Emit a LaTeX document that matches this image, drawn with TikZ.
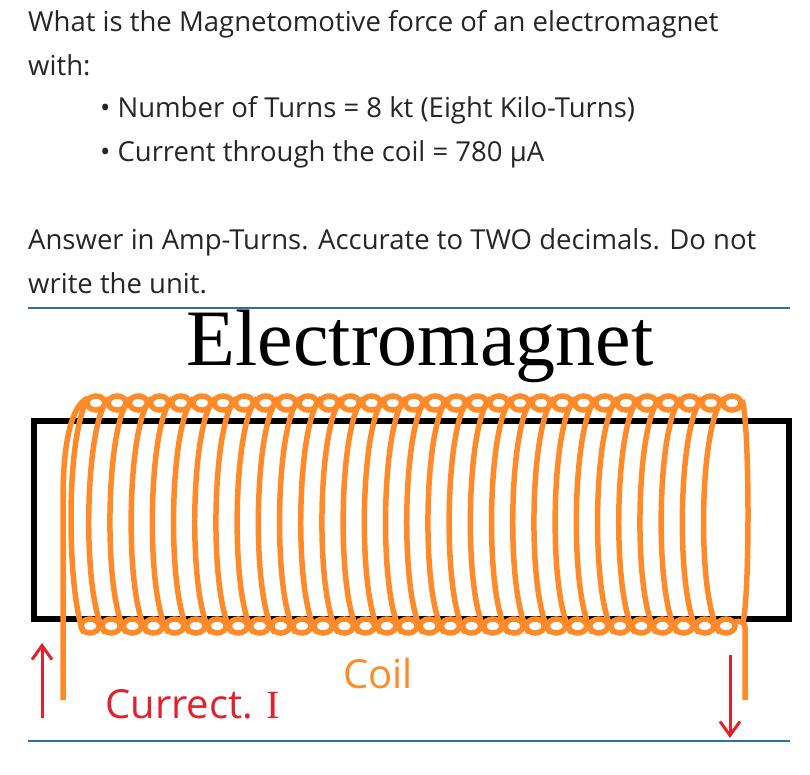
\documentclass[tikz,border=0pt]{standalone}
\usepackage{fontspec}
\setmainfont{Open Sans}
\newfontfamily\serifR{Liberation Serif}
\usetikzlibrary{arrows.meta}
\definecolor{coilc}{HTML}{FF8A2A}
\definecolor{redc}{HTML}{E3202B}
\definecolor{bluec}{HTML}{2F6FA8}
\tikzset{q/.style={anchor=base west,inner sep=0,font=\fontsize{27.5}{30}\selectfont,text=black!85},
wire/.style={draw=coilc,line width=5.5pt},
cur/.style={draw=redc,line width=3pt,-{Straight Barb[length=14pt,width=20pt,line width=3pt]}}}
\begin{document}
\begin{tikzpicture}[x=1pt,y=-1pt]
\useasboundingbox (0,0) rectangle (810,775);
\node[q] (l1) at (28,32) {What is the Magnetomotive force of an electromagnet};
\node[q] (l2) at (28,76) {with:};
\node[q] (b1) at (100,118) {•\hspace{7pt}Number of Turns = 8 kt (Eight Kilo-Turns)};
\node[q] (b2) at (100,162) {•\hspace{7pt}Current through the coil = 780 µA};
\node[q] (l3) at (28,250) {Answer in Amp-Turns. Accurate to TWO decimals. Do not};
\node[q] (l4) at (28,294) {write the unit.};
\draw[bluec,line width=1.5pt] (28,308) -- (790,308);
\draw[bluec,line width=1.5pt] (28,741) -- (790,741);
\node[anchor=base,inner sep=0,font=\serifR\fontsize{80}{80}\selectfont] (title) at (420,365) {Electromagnet};
\node[draw,line width=6pt,minimum width=755pt,minimum height=198pt,inner sep=0,anchor=north west] (core) at (31,418) {};
% legs
\draw[wire] (63,700) -- (63,500) .. controls (63,440) and (72,405) .. (88,398);
\draw[wire] (745,700) -- (745,628) .. controls (745,622) and (740,620) .. (735,622);
\foreach \i in {0,...,30}{
  \pgfmathsetmacro\t{88+21.2*\i}
  \draw[wire] (\t+8,403) circle[x radius=9pt,y radius=7pt];
  \draw[wire] (\t+2,626) circle[x radius=9pt,y radius=7pt];
  \ifnum\i>0
  \draw[wire] (\t,398) .. controls (\t-25,420) and (\t-28,600) .. (\t-4,633);
  \fi
}
\draw[wire] (88,398) .. controls (64,440) and (68,600) .. (84,633);
\draw[wire] (742,400) .. controls (750,420) and (750,610) .. (742,625);
\draw[cur] (42,718) -- (42,643);
\draw[cur] (730,655) -- (730,738);
\node[anchor=base west,inner sep=0,text=coilc,font=\fontsize{40}{40}\selectfont] (coil) at (343,688) {Coil};
\node[anchor=base west,inner sep=0,text=redc,font=\fontsize{40}{40}\selectfont] (cur) at (105,718) {Currect. {\serifR I}};
\end{tikzpicture}
\end{document}
